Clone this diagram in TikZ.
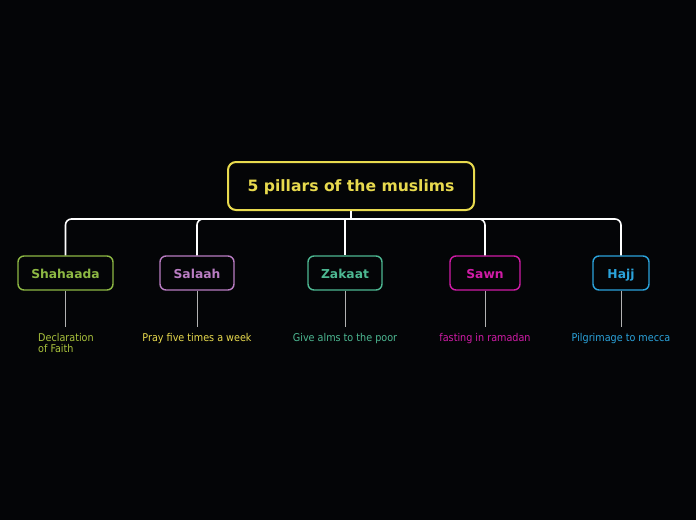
\documentclass[tikz,border=0pt]{standalone}
\usepackage{fontspec}
\setmainfont{DejaVu Sans}
\newfontfamily\condfont{DejaVu Sans Condensed}
\usepackage{tikz}
\usetikzlibrary{calc}
\definecolor{bgdark}{HTML}{040507}
\definecolor{pillaryellow}{HTML}{E8DA4E}
\definecolor{pillargreen}{HTML}{8DB843}
\definecolor{leafgreen}{HTML}{A9C23C}
\definecolor{pillarpink}{HTML}{B97CC2}
\definecolor{pillarteal}{HTML}{4DB892}
\definecolor{pillarmagenta}{HTML}{D01BA6}
\definecolor{pillarblue}{HTML}{2BA3DB}

\begin{document}
\begin{tikzpicture}[x=1pt, y=-1pt, every node/.style={font=\small},
    root/.style={draw=pillaryellow, line width=2pt, rounded corners=8pt,
      minimum width=246pt, minimum height=48pt, text=pillaryellow,
      text height=13pt, text depth=1.8pt,
      font=\fontsize{15.6}{18}\selectfont\bfseries},
    pillar/.style={draw=#1, line width=1.4pt, rounded corners=6pt,
      minimum height=34pt, text=#1, text height=11.5pt, text depth=0pt,
      font=\fontsize{12.3}{14}\selectfont\bfseries},
    detail/.style={text=#1, inner sep=0pt,
      font=\condfont\fontsize{10.7}{11}\selectfont},
    link/.style={white, line width=1.6pt, rounded corners=6pt},
    drop/.style={gray!60!white, line width=0.9pt}]

    % background and page size
    \fill[bgdark] (0,0) rectangle (696,520);

    \node[root] (root) at (351,186) {5 pillars of the muslims};
    \coordinate (hub) at (351,219);

    % the five pillars
    \node[pillar=pillargreen, minimum width=95pt] (shahaada) at (65.5,273) {Shahaada};
    \node[pillar=pillarpink, minimum width=74pt] (salaah) at (197,273) {Salaah};
    \node[pillar=pillarteal, minimum width=74pt] (zakaat) at (345,273) {Zakaat};
    \node[pillar=pillarmagenta, minimum width=70pt] (sawn) at (485,273) {Sawn};
    \node[pillar=pillarblue, minimum width=56pt] (hajj) at (621,273) {Hajj};

    \draw[white, line width=2.4pt] (root.south) -- (hub);
    \draw[link] (hub) -| (shahaada.north);
    \draw[link] (hub) -| (salaah.north);
    \draw[link] (zakaat.north |- hub) -- (zakaat.north);
    \draw[link] (hub) -| (sawn.north);
    \draw[link] (hub) -| (hajj.north);

    % short lines down to the notes
    \foreach \p in {shahaada,salaah,zakaat,sawn,hajj}{
      \coordinate (\p-end) at ($(\p.south)+(0,36)$);
      \draw[drop] (\p.south) -- (\p-end);
    }

    \node[detail=leafgreen, anchor=north west, align=left] (faith) at (38,333.5) {Declaration\\of Faith};
    \node[detail=pillaryellow] (pray) at (197,338.5) {Pray five times a week};
    \node[detail=pillarteal] (alms) at (345,338.5) {Give alms to the poor};
    \node[detail=pillarmagenta] (fasting) at (485,338.5) {fasting in ramadan};
    \node[detail=pillarblue] (mecca) at (621,338.5) {Pilgrimage to mecca};

\end{tikzpicture}
\end{document}
